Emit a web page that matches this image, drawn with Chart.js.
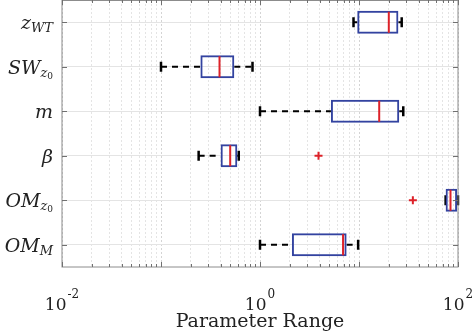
<!DOCTYPE html>
<html>
<head>
<meta charset="utf-8">
<script src="https://cdn.jsdelivr.net/npm/chart.js@4"></script>
<style>
  body { margin: 0; background: #fff; }
</style>
</head>
<body>
<canvas id="boxChart" width="474" height="333"></canvas>
<script>
// ---------------- data ----------------
var categories = ['zWT', 'SWz0', 'm', 'beta', 'OMz0', 'OMM'];
var whiskerLow  = [8.8, 0.10, 1.0, 0.24, 75, 1.0];
var q1          = [9.6, 0.25, 5.2, 0.40, 75, 2.1];
var median      = [20, 0.39, 16, 0.50, 84, 6.9];
var q3          = [25, 0.55, 25.5, 0.59, 98, 7.5];
var whiskerHigh = [27, 0.84, 28, 0.61, 100, 9.8];
var outlierCat  = ['beta', 'OMz0'];
var outlierVal  = [3.9, 35];
var xTickLabels = [0.01, 1, 100];

// axis label pieces (main text + subscripts)
var yLabelParts = {
    zWT:  [['z', 19, 0], ['WT', 13, 3]],
    SWz0: [['SW', 19, 0], ['z', 13, 3], ['0', 9, 5, true]],
    m:    [['m', 19, 0]],
    beta: [['β', 19, 0]],
    OMz0: [['OM', 19, 0], ['z', 13, 3], ['0', 9, 5, true]],
    OMM:  [['OM', 19, 0], ['M', 13, 3]]
};

var BLUE = '#3343a0';
var RED = '#dd2229';

// log ticks 0.01 .. 100 with minors
var gridTicks = [];
for (var e = -2; e <= 2; e++) {
    for (var s = 1; s <= 9; s++) {
        if (e == 2 && s > 1) break;
        gridTicks.push({ value: s * Math.pow(10, e), major: s == 1 });
    }
}

function line(ctx, x1, y1, x2, y2) {
    ctx.beginPath();
    ctx.moveTo(x1, y1);
    ctx.lineTo(x2, y2);
    ctx.stroke();
}

// whiskers + medians
var boxPlot = {
    id: 'boxPlot',
    beforeDatasetsDraw: function (chart) {
        var ctx = chart.ctx, x = chart.scales.x, y = chart.scales.y;
        ctx.save();
        ctx.strokeStyle = '#000';
        ctx.lineWidth = 2;
        categories.forEach(function (c, i) {
            var yc = y.getPixelForValue(i);
            var lo = x.getPixelForValue(whiskerLow[i]);
            var a = x.getPixelForValue(q1[i]);
            var b = x.getPixelForValue(q3[i]);
            var hi = x.getPixelForValue(whiskerHigh[i]);
            ctx.setLineDash([6, 5]);
            if (a - lo > 1) line(ctx, lo, yc, a, yc);
            if (hi - b > 1) line(ctx, b, yc, hi, yc);
            ctx.setLineDash([]);
            ctx.lineWidth = 2.5;
            line(ctx, lo, yc - 5, lo, yc + 5);
            line(ctx, hi, yc - 5, hi, yc + 5);
            ctx.lineWidth = 2;
        });
        ctx.restore();
    },
    afterDatasetsDraw: function (chart) {
        var ctx = chart.ctx, x = chart.scales.x;
        var bars = chart.getDatasetMeta(0).data;
        ctx.save();
        ctx.strokeStyle = RED;
        ctx.lineWidth = 2;
        bars.forEach(function (bar, i) {
            var p = bar.getProps(['y', 'height'], true);
            var xm = x.getPixelForValue(median[i]);
            line(ctx, xm, p.y - p.height / 2 + 1, xm, p.y + p.height / 2 - 1);
        });
        ctx.restore();
    }
};

// MATLAB-like frame, inward ticks and axis text
var axisText = {
    id: 'axisText',
    afterDraw: function (chart) {
        var ctx = chart.ctx, area = chart.chartArea;
        var x = chart.scales.x, y = chart.scales.y;
        ctx.save();
        ctx.strokeStyle = '#8c8c8c';
        ctx.lineWidth = 1;
        ctx.strokeRect(area.left, area.top + 0.5, area.right - area.left, area.bottom - area.top - 0.5);

        ctx.strokeStyle = '#707070';
        gridTicks.forEach(function (t) {
            var px = Math.round(x.getPixelForValue(t.value)) + 0.5;
            var len = t.major ? 5 : 3;
            line(ctx, px, area.bottom, px, area.bottom - len);
            line(ctx, px, area.top, px, area.top + len);
        });
        categories.forEach(function (c, i) {
            var py = Math.round(y.getPixelForValue(i)) + 0.5;
            line(ctx, area.left, py, area.left + 5, py);
            line(ctx, area.right, py, area.right - 5, py);
        });

        ctx.fillStyle = '#222';
        ctx.textBaseline = 'alphabetic';

        // x tick labels 10^n
        xTickLabels.forEach(function (v) {
            var px = x.getPixelForValue(v);
            var base = '10', sup = String(Math.round(Math.log10(v)));
            ctx.font = '17px "DejaVu Serif"';
            var w1 = ctx.measureText(base).width;
            ctx.font = '12px "DejaVu Serif"';
            var w2 = ctx.measureText(sup).width;
            var x0 = px - (w1 + w2 + 1) / 2;
            ctx.font = '17px "DejaVu Serif"';
            ctx.textAlign = 'left';
            ctx.fillText(base, x0, 310);
            ctx.font = '12px "DejaVu Serif"';
            ctx.fillText(sup, x0 + w1 + 1, 298);
        });

        // x title
        ctx.font = '19px "DejaVu Serif"';
        ctx.textAlign = 'center';
        ctx.fillText('Parameter Range', (area.left + area.right) / 2, 327);

        // y labels with subscripts, right aligned
        ctx.textAlign = 'left';
        categories.forEach(function (c, i) {
            var parts = yLabelParts[c];
            var yc = y.getPixelForValue(i) + 7;
            var total = 0;
            parts.forEach(function (p) {
                ctx.font = (p[3] ? '' : 'italic ') + p[1] + 'px "DejaVu Serif"';
                total += ctx.measureText(p[0]).width;
            });
            var cx = area.left - 9 - total;
            parts.forEach(function (p) {
                ctx.font = (p[3] ? '' : 'italic ') + p[1] + 'px "DejaVu Serif"';
                ctx.fillText(p[0], cx, yc + p[2]);
                cx += ctx.measureText(p[0]).width;
            });
        });
        ctx.restore();
    }
};

var ctx = document.getElementById('boxChart');

new Chart(ctx, {
    type: 'bar',
    data: {
        labels: categories,
        datasets: [
            {
                label: 'IQR',
                data: categories.map(function (c, i) { return [q1[i], q3[i]]; }),
                backgroundColor: 'rgba(255,255,255,0)',
                borderColor: BLUE,
                borderWidth: 2,
                borderSkipped: false,
                barPercentage: 0.52,
                categoryPercentage: 1
            },
            {
                type: 'scatter',
                label: 'Outliers',
                data: outlierCat.map(function (c, i) { return { x: outlierVal[i], y: c }; }),
                pointStyle: 'cross',
                radius: 4,
                borderColor: RED,
                borderWidth: 2
            }
        ]
    },
    options: {
        indexAxis: 'y',
        responsive: false,
        animation: false,
        layout: {
            autoPadding: false,
            padding: { left: 62, right: 16, top: 0, bottom: 66 }
        },
        plugins: {
            legend: { display: false },
            tooltip: { enabled: false }
        },
        scales: {
            x: {
                type: 'logarithmic',
                min: 0.01,
                max: 100,
                afterBuildTicks: function (scale) {
                    scale.ticks = gridTicks.map(function (t) { return { value: t.value, major: t.major }; });
                },
                ticks: { display: false },
                border: { display: false, dash: [2, 2] },
                grid: {
                    drawTicks: false,
                    color: function (c) { return c.tick && c.tick.major ? '#d4d4d4' : '#e4e4e4'; }
                }
            },
            y: {
                ticks: { display: false },
                border: { display: false },
                grid: { drawTicks: false, offset: false, color: '#e4e4e4' }
            }
        }
    },
    plugins: [boxPlot, axisText]
});
</script>
</body>
</html>
